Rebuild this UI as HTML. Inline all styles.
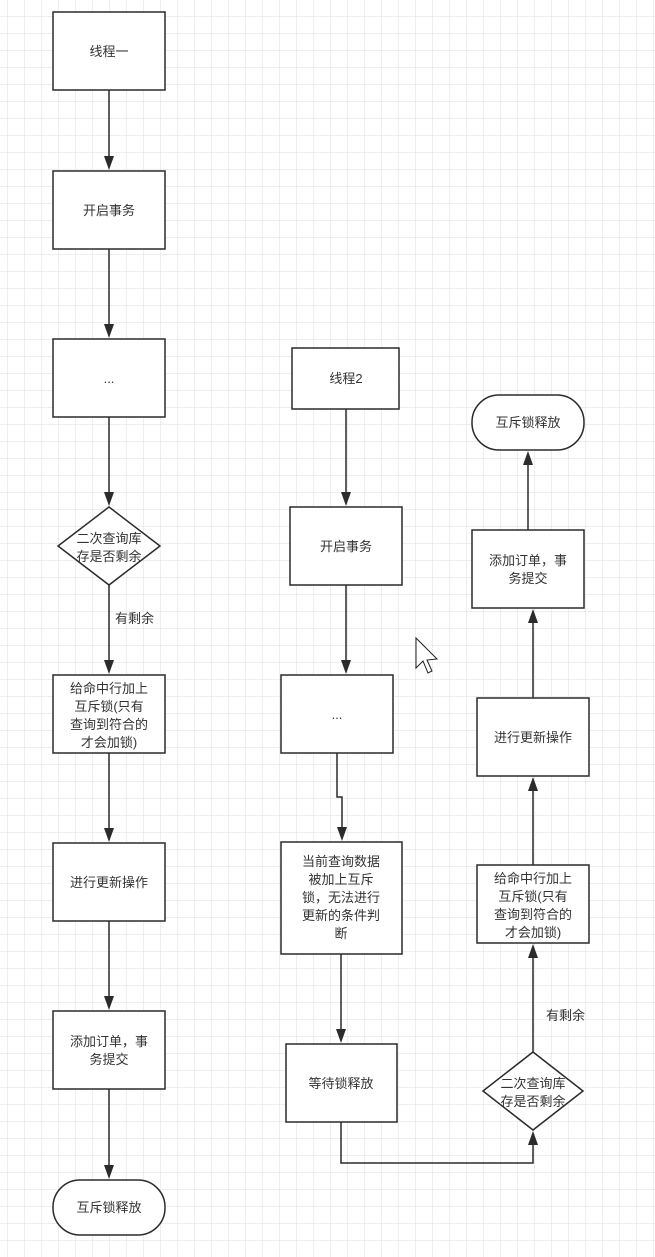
<!DOCTYPE html>
<html><head><meta charset="utf-8"><style>
html,body{margin:0;padding:0;background:#fff}
svg{display:block}
text{font-family:"Liberation Sans","Noto Sans CJK SC",sans-serif;font-size:13px;fill:#333}
</style></head><body>
<svg width="655" height="1257" viewBox="0 0 655 1257" xmlns="http://www.w3.org/2000/svg">
<defs>
<pattern id="g" width="17" height="17" patternUnits="userSpaceOnUse" x="7" y="-1">
<path d="M0 0H17M0 0V17" stroke="#e3e3e3" stroke-width="1.2" fill="none"/>
</pattern>
</defs>
<rect width="655" height="1257" fill="#fff"/>
<rect width="655" height="1257" fill="url(#g)"/>
<g stroke="#2b2b2b" stroke-width="1.5" fill="#fff">
<rect x="53" y="12" width="112" height="78"/>
<rect x="53" y="171" width="112" height="78"/>
<rect x="53" y="339" width="112" height="78"/>
<polygon points="109,507 160,546 109,585 58,546"/>
<rect x="53" y="675" width="112" height="78"/>
<rect x="53" y="843" width="112" height="78"/>
<rect x="53" y="1011" width="112" height="78"/>
<rect x="53" y="1180" width="112" height="55" rx="27"/>
<rect x="292" y="348" width="107" height="61"/>
<rect x="290" y="507" width="112" height="78"/>
<rect x="281" y="675" width="112" height="78"/>
<rect x="281" y="842" width="121" height="112"/>
<rect x="286" y="1044" width="111" height="78"/>
<polygon points="533,1052 583,1091 533,1130 483,1091"/>
<rect x="477" y="865" width="112" height="78"/>
<rect x="477" y="698" width="112" height="78"/>
<rect x="472" y="530" width="112" height="78"/>
<rect x="472" y="395" width="112" height="55" rx="27"/>
</g>
<g stroke="#2b2b2b" stroke-width="1.5" fill="none">
<path d="M109 90V158"/><path d="M109 249V326"/><path d="M109 417V494"/>
<path d="M109 585V662"/><path d="M109 753V830"/><path d="M109 921V998"/><path d="M109 1089V1167"/>
<path d="M346 409V494"/><path d="M346 585V662"/>
<path d="M337 753V797H342V829"/><path d="M341 954V1031"/>
<path d="M341 1122V1163H533V1143"/>
<path d="M533 1052V956"/><path d="M533 865V789"/><path d="M533 698V621"/><path d="M528 530V463"/>
</g>
<g fill="#2b2b2b">
<path d="M104 156L109 170L114 156Z"/><path d="M104 324L109 338L114 324Z"/><path d="M104 492L109 506L114 492Z"/>
<path d="M104 660L109 674L114 660Z"/><path d="M104 828L109 842L114 828Z"/><path d="M104 996L109 1010L114 996Z"/><path d="M104 1165L109 1179L114 1165Z"/>
<path d="M341 492L346 506L351 492Z"/><path d="M341 660L346 674L351 660Z"/>
<path d="M337 827L342 841L347 827Z"/><path d="M336 1029L341 1043L346 1029Z"/>
<path d="M528 1145L533 1131L538 1145Z"/><path d="M528 958L533 944L538 958Z"/>
<path d="M528 791L533 777L538 791Z"/><path d="M528 623L533 609L538 623Z"/><path d="M523 465L528 451L533 465Z"/>
</g>
<g text-anchor="middle">
<text x="109" y="56">线程一</text>
<text x="109" y="215">开启事务</text>
<text x="109" y="383">...</text>
<text x="109" y="543">二次查询库</text><text x="109" y="561">存是否剩余</text>
<text x="109" y="693">给命中行加上</text><text x="109" y="711">互斥锁(只有</text><text x="109" y="729">查询到符合的</text><text x="109" y="747">才会加锁)</text>
<text x="109" y="887">进行更新操作</text>
<text x="109" y="1046">添加订单，事</text><text x="109" y="1064">务提交</text>
<text x="109" y="1212">互斥锁释放</text>
<text x="346" y="383">线程2</text>
<text x="346" y="551">开启事务</text>
<text x="337" y="719">...</text>
<text x="341" y="866">当前查询数据</text><text x="341" y="884">被加上互斥</text><text x="341" y="902">锁，无法进行</text><text x="341" y="920">更新的条件判</text><text x="341" y="938">断</text>
<text x="341" y="1088">等待锁释放</text>
<text x="533" y="1088">二次查询库</text><text x="533" y="1106">存是否剩余</text>
<text x="533" y="883">给命中行加上</text><text x="533" y="901">互斥锁(只有</text><text x="533" y="919">查询到符合的</text><text x="533" y="937">才会加锁)</text>
<text x="533" y="742">进行更新操作</text>
<text x="528" y="565">添加订单，事</text><text x="528" y="583">务提交</text>
<text x="528" y="427">互斥锁释放</text>
</g>
<text x="115" y="623">有剩余</text>
<text x="546" y="1020">有剩余</text>
<path d="M416 638V668L423 661L428 673L432 671L427 660L437 659Z" fill="#fff" stroke="#222" stroke-width="1"/>
</svg>
</body></html>
